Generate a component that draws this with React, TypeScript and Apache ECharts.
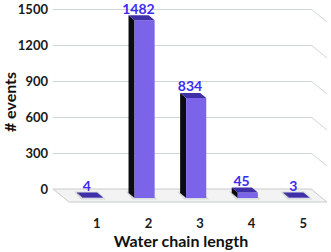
import React, { useEffect, useRef } from "react";
import * as echarts from "echarts";

const categories = ["1", "2", "3", "4", "5"];
const events = [4, 1482, 834, 45, 3];
const yTicks = [0, 300, 600, 900, 1200, 1500];
const xTitle = "Water chain length";
const yTitle = "# events";

const FONT = "Lato, 'Open Sans', sans-serif";
const DEPTH_X = 16;
const DEPTH_Y = 13;

export default function App() {
  const ref = useRef<HTMLDivElement>(null);
  useEffect(() => {
    if (!ref.current) return;
    const chart = echarts.init(ref.current, null, { renderer: "svg" });
    const barData = events.map((v, i) => [i, v]);
    chart.setOption({
      animation: false,
      backgroundColor: "#ffffff",
      grid: [
        { left: 53, right: 20, top: 9, bottom: 63 },
        { left: 71, right: 2, top: 22, bottom: 50 },
      ],
      xAxis: [
        {
          type: "category",
          gridIndex: 0,
          data: categories,
          axisLine: { show: false },
          axisTick: { show: false },
          axisLabel: { show: false },
        },
        {
          type: "category",
          gridIndex: 1,
          data: categories,
          axisLine: { show: false },
          axisTick: { show: false },
          axisLabel: {
            margin: 14,
            fontFamily: FONT,
            fontWeight: "bold",
            fontSize: 13,
            color: "#1a1a1a",
          },
        },
      ],
      yAxis: [
        {
          type: "value",
          gridIndex: 0,
          min: yTicks[0],
          max: yTicks[yTicks.length - 1],
          interval: yTicks[1] - yTicks[0],
          axisLine: { show: false },
          axisTick: { show: false },
          axisLabel: {
            margin: 5,
            formatter: (v: number) => String(v),
            fontFamily: FONT,
            fontWeight: "bold",
            fontSize: 13,
            color: "#1a1a1a",
          },
          splitLine: { lineStyle: { color: "#cfd6d6", width: 1 } },
        },
        { type: "value", gridIndex: 1, show: false, min: 0, max: 1 },
      ],
      series: [
        {
          type: "custom",
          xAxisIndex: 0,
          yAxisIndex: 0,
          clip: false,
          z: 1,
          data: [[0, 0]],
          renderItem: (params: any, api: any) => {
            const cs = params.coordSys;
            const y0 = api.coord([0, 0])[1];
            const xr = cs.x + cs.width;
            const children: any[] = [
              {
                type: "polygon",
                shape: {
                  points: [
                    [cs.x, y0],
                    [xr, y0],
                    [xr + DEPTH_X, y0 + DEPTH_Y],
                    [cs.x + DEPTH_X, y0 + DEPTH_Y],
                  ],
                },
                style: { fill: "#f3f3f3", stroke: "#c8cccc", lineWidth: 1 },
              },
            ];
            yTicks.forEach((t) => {
              if (t === 0) return;
              const y = api.coord([0, t])[1];
              children.push({
                type: "line",
                shape: { x1: xr, y1: y, x2: xr + DEPTH_X, y2: y + DEPTH_Y },
                style: { stroke: "#cfd6d6", lineWidth: 1 },
              });
            });
            return { type: "group", children };
          },
        },
        {
          type: "custom",
          xAxisIndex: 0,
          yAxisIndex: 0,
          clip: false,
          z: 2,
          data: barData,
          renderItem: (params: any, api: any) => {
            const i = api.value(0);
            const v = api.value(1);
            const c0 = api.coord([i, 0]);
            const c1 = api.coord([i, v]);
            const w = api.size([1, 0])[0];
            const xl = c0[0] + 0.08 * w;
            const xr = c0[0] + 0.47 * w;
            const yb = c0[1] + 9;
            const yt = Math.min(c1[1] + 9, yb - 0.5);
            const dx = -6;
            const dy = -5;
            return {
              type: "group",
              children: [
                {
                  type: "polygon",
                  shape: {
                    points: [
                      [xl + dx - 3, yb + dy - 1.5],
                      [xr + dx + 1, yb + dy - 1.5],
                      [xr + 3, yb + 1.5],
                      [xl - 2, yb + 1.5],
                    ],
                  },
                  style: { fill: "#d9dcdc" },
                },
                {
                  type: "polygon",
                  shape: {
                    points: [
                      [xl, yt],
                      [xl + dx, yt + dy],
                      [xl + dx, yb + dy],
                      [xl, yb],
                    ],
                  },
                  style: { fill: "#0b0b12" },
                },
                {
                  type: "rect",
                  shape: { x: xl, y: yt, width: xr - xl, height: yb - yt },
                  style: { fill: "#7b63ea" },
                },
                {
                  type: "polygon",
                  shape: {
                    points: [
                      [xl, yt],
                      [xr, yt],
                      [xr + dx, yt + dy],
                      [xl + dx, yt + dy],
                    ],
                  },
                  style: { fill: "#3f30a8" },
                },
                {
                  type: "text",
                  style: {
                    text: String(v),
                    x: c0[0] + 0.155 * w,
                    y: yt - 5,
                    align: "center",
                    verticalAlign: "bottom",
                    fill: "#3b2cf0",
                    font: "bold 14px " + FONT,
                  },
                },
              ],
            };
          },
        },
      ],
      graphic: [
        {
          type: "text",
          x: 181,
          y: 240,
          style: {
            text: xTitle,
            align: "center",
            verticalAlign: "middle",
            fill: "#111111",
            font: "bold 16px " + FONT,
          },
        },
        {
          type: "text",
          x: 9,
          y: 102,
          rotation: Math.PI / 2,
          style: {
            text: yTitle,
            align: "center",
            verticalAlign: "middle",
            fill: "#111111",
            font: "bold 16px " + FONT,
          },
        },
      ],
    });
    return () => chart.dispose();
  }, []);
  return (
    <div
      ref={ref}
      style={{ position: "absolute", left: 0, top: 0, width: 331, height: 252 }}
    />
  );
}
